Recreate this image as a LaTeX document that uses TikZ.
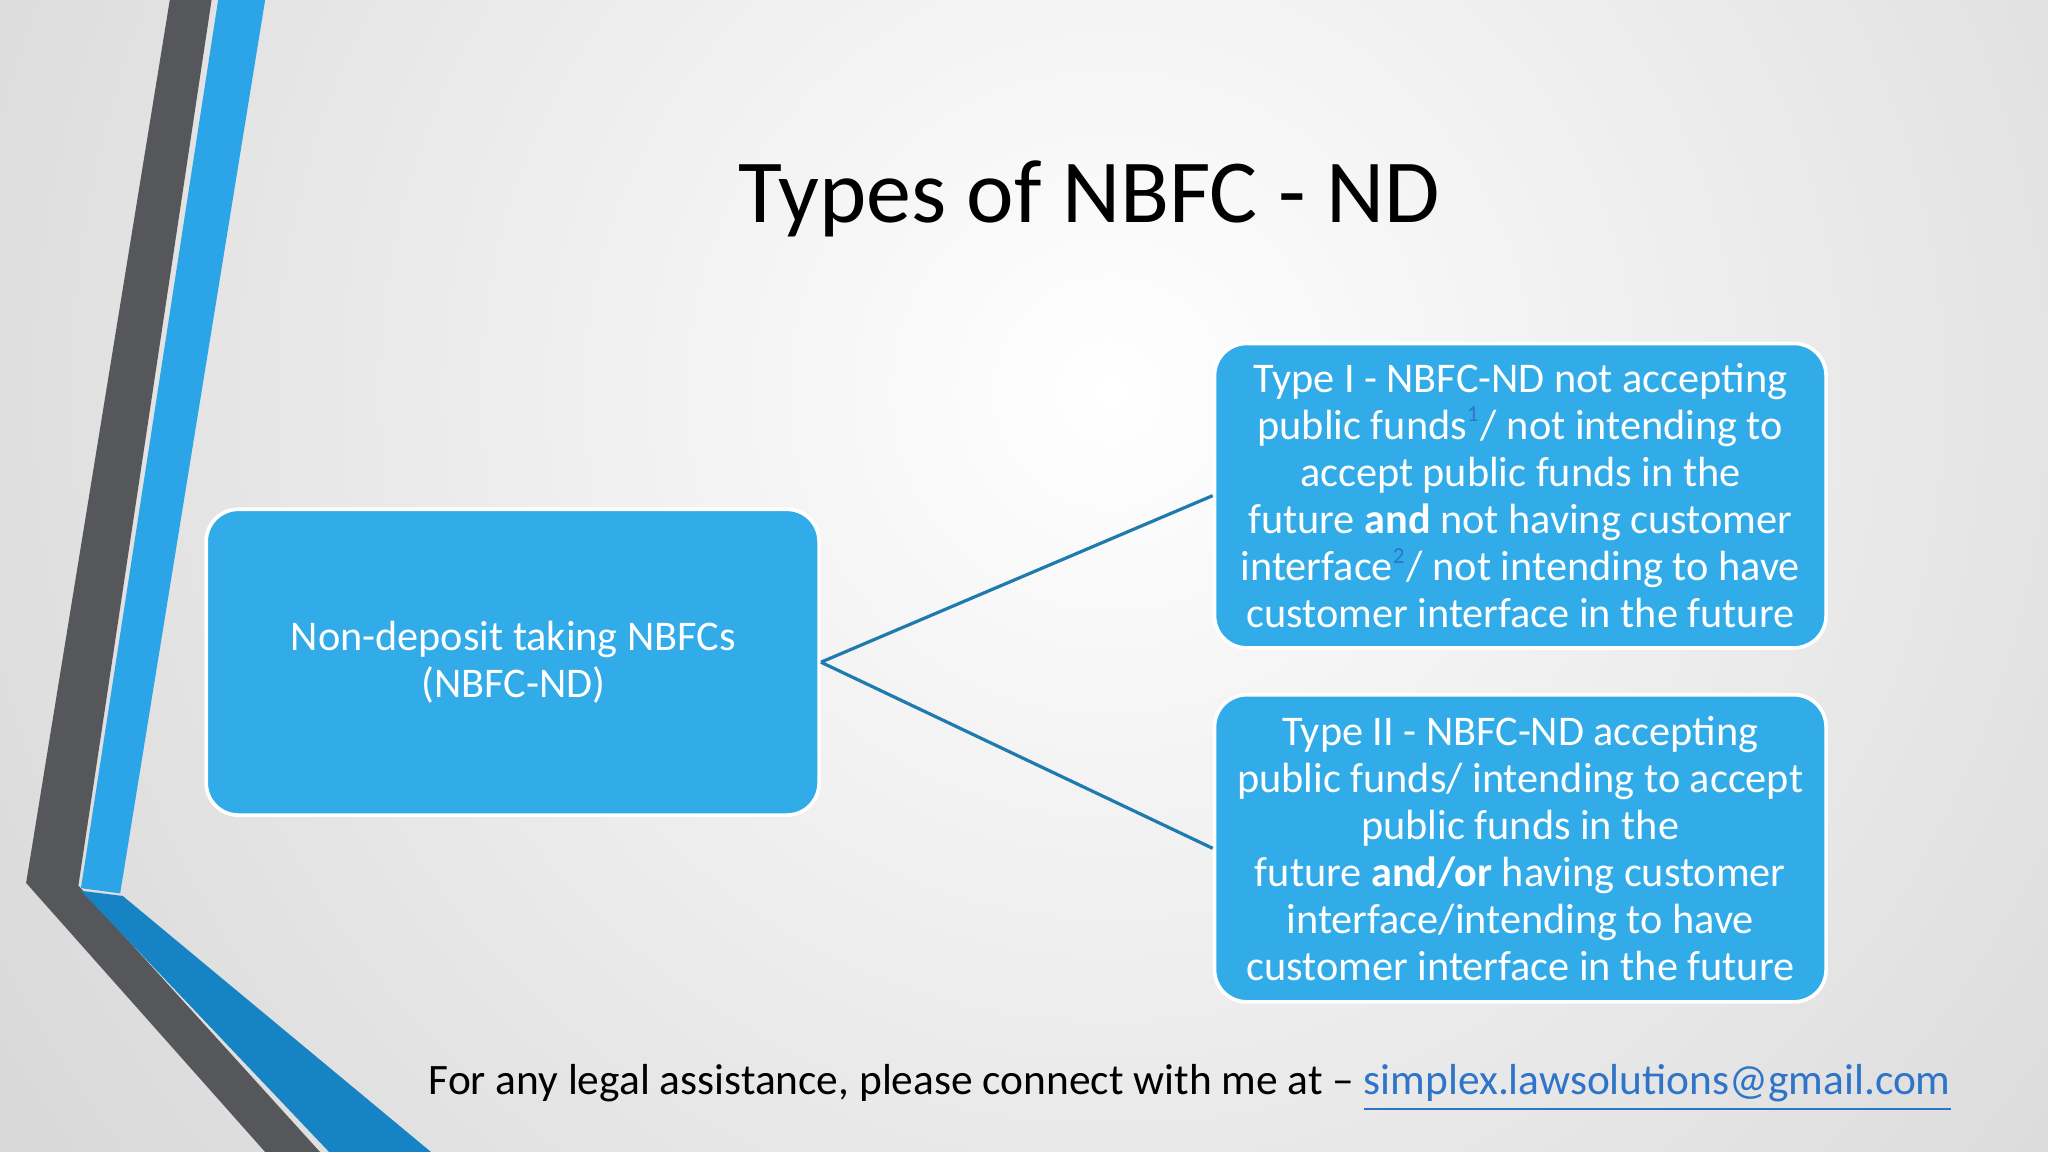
\documentclass[tikz,border=0pt]{standalone}
\usepackage{fontspec}
\setmainfont{Carlito}
\usetikzlibrary{shadings}
\definecolor{boxblue}{HTML}{32ABE9}
\definecolor{linkblue}{HTML}{2E74C8}
\definecolor{linecol}{HTML}{1F7AAE}
\definecolor{stripegray}{HTML}{55575A}
\definecolor{stripeblue}{HTML}{2CA5E8}
\definecolor{darkblue}{HTML}{1683C4}
\tikzset{
  bx/.style={draw=white, line width=0.8pt, fill=boxblue, rounded corners=7pt, inner sep=0pt, text=white, align=center, font=\fontsize{9.2pt}{10.25pt}\selectfont},
  conn/.style={draw=linecol, line width=0.7pt},
}
\begin{document}
\begin{tikzpicture}[x=0.01cm,y=-0.01cm]
\useasboundingbox (0,0) rectangle (1568,882);
\begin{scope}
\clip (0,0) rectangle (1568,882);
\fill[gray!45] (0,0) rectangle (1568,882);
\shade[inner color=white, outer color=gray!45] (850,300) circle (1500);
\end{scope}
% stripes
\fill[stripegray] (130,0) -- (162,0) -- (60,678) -- (245,882) -- (203,882) -- (20,676) -- cycle;
\fill[stripeblue] (167,0) -- (203,0) -- (92,684) -- (62,680) -- cycle;
\fill[darkblue] (62,682) -- (94,686) -- (330,882) -- (252,882) -- cycle;
\node[font=\fontsize{19.6pt}{24pt}\selectfont, anchor=center] (title) at (834,152) {Types of NBFC - ND};
\node[bx, minimum width=4.69cm, minimum height=2.34cm] (nd) at (392.5,507) {};
\node[text=white, align=center, font=\fontsize{9.2pt}{10.25pt}\selectfont] (ndtext) at (393,507) {Non-deposit taking NBFCs\\(NBFC-ND)};
\node[bx, minimum width=4.68cm, minimum height=2.33cm] (t1) at (1164,379.5) {Type I - NBFC-ND not accepting\\public funds\textsuperscript{\color{linkblue}\tiny 1}/ not intending to\\accept public funds in the\\future \textbf{and} not having customer\\interface\textsuperscript{\color{linkblue}\tiny 2}/ not intending to have\\customer interface in the future};
\node[bx, minimum width=4.68cm, minimum height=2.35cm] (t2) at (1164,649.5) {Type II - NBFC-ND accepting\\public funds/ intending to accept\\public funds in the\\future \textbf{and/or} having customer\\interface/intending to have\\customer interface in the future};
\coordinate (src) at (nd.east);
\draw[conn] (src) -- (t1.west);
\draw[conn] (src) -- (t2.west);
\node[anchor=east, font=\fontsize{9.45pt}{12pt}\selectfont] (foot) at (1506,833) {For any legal assistance, please connect with me at -- {\color{linkblue}\underline{simplex.lawsolutions@gmail.com}}};
\end{tikzpicture}
\end{document}
